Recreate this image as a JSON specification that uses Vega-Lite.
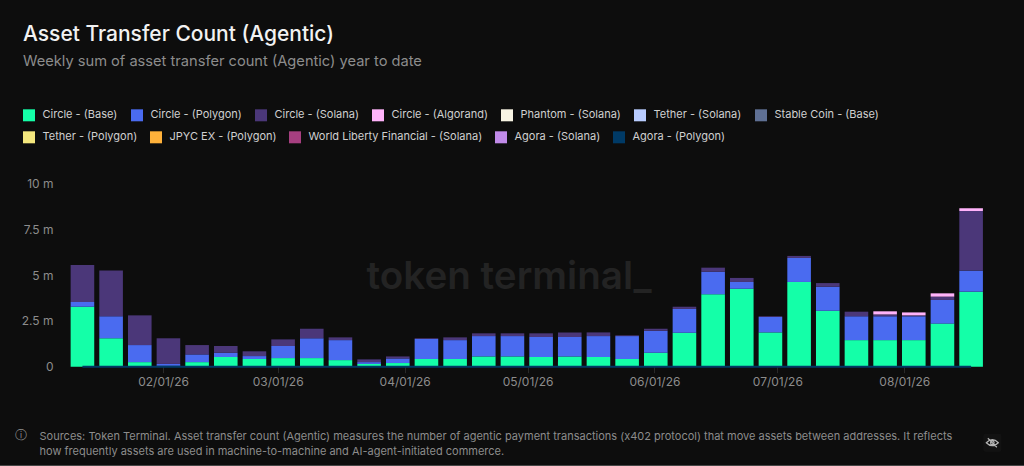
{
  "$schema": "https://vega.github.io/schema/vega-lite/v6.json",
  "width": 917,
  "height": 183.4,
  "autosize": "none",
  "padding": {"left": 68, "top": 183.3, "right": 39, "bottom": 99.3},
  "background": "#0d0d0d",
  "view": {"stroke": null},
  "title": {
    "text": "Asset Transfer Count (Agentic)",
    "subtitle": "Weekly sum of asset transfer count (Agentic) year to date",
    "anchor": "start",
    "frame": "group",
    "dx": -45,
    "dy": -37,
    "font": "Inter",
    "fontSize": 21,
    "fontWeight": 500,
    "color": "#f2f2f2",
    "subtitleFont": "Inter",
    "subtitleFontSize": 14.65,
    "subtitleColor": "#8c8c8c",
    "subtitlePadding": 9
  },
  "datasets": {
    "bars": [
      {"week": "2026-01-12", "series": "Circle - (Base)", "stack": 1, "count": 3270000},
      {"week": "2026-01-12", "series": "Circle - (Polygon)", "stack": 2, "count": 260000},
      {"week": "2026-01-12", "series": "Circle - (Solana)", "stack": 3, "count": 2020000},
      {"week": "2026-01-19", "series": "Circle - (Base)", "stack": 1, "count": 1550000},
      {"week": "2026-01-19", "series": "Circle - (Polygon)", "stack": 2, "count": 1200000},
      {"week": "2026-01-19", "series": "Circle - (Solana)", "stack": 3, "count": 2490000},
      {"week": "2026-01-26", "series": "Circle - (Base)", "stack": 1, "count": 250000},
      {"week": "2026-01-26", "series": "Circle - (Polygon)", "stack": 2, "count": 930000},
      {"week": "2026-01-26", "series": "Circle - (Solana)", "stack": 3, "count": 1620000},
      {"week": "2026-02-02", "series": "Circle - (Base)", "stack": 1, "count": 50000},
      {"week": "2026-02-02", "series": "Circle - (Polygon)", "stack": 2, "count": 100000},
      {"week": "2026-02-02", "series": "Circle - (Solana)", "stack": 3, "count": 1400000},
      {"week": "2026-02-09", "series": "Circle - (Base)", "stack": 1, "count": 250000},
      {"week": "2026-02-09", "series": "Circle - (Polygon)", "stack": 2, "count": 420000},
      {"week": "2026-02-09", "series": "Circle - (Solana)", "stack": 3, "count": 510000},
      {"week": "2026-02-16", "series": "Circle - (Base)", "stack": 1, "count": 530000},
      {"week": "2026-02-16", "series": "Circle - (Polygon)", "stack": 2, "count": 230000},
      {"week": "2026-02-16", "series": "Circle - (Solana)", "stack": 3, "count": 370000},
      {"week": "2026-02-23", "series": "Circle - (Base)", "stack": 1, "count": 420000},
      {"week": "2026-02-23", "series": "Circle - (Polygon)", "stack": 2, "count": 160000},
      {"week": "2026-02-23", "series": "Circle - (Solana)", "stack": 3, "count": 260000},
      {"week": "2026-03-02", "series": "Circle - (Base)", "stack": 1, "count": 470000},
      {"week": "2026-03-02", "series": "Circle - (Polygon)", "stack": 2, "count": 660000},
      {"week": "2026-03-02", "series": "Circle - (Solana)", "stack": 3, "count": 360000},
      {"week": "2026-03-09", "series": "Circle - (Base)", "stack": 1, "count": 470000},
      {"week": "2026-03-09", "series": "Circle - (Polygon)", "stack": 2, "count": 1080000},
      {"week": "2026-03-09", "series": "Circle - (Solana)", "stack": 3, "count": 520000},
      {"week": "2026-03-16", "series": "Circle - (Base)", "stack": 1, "count": 360000},
      {"week": "2026-03-16", "series": "Circle - (Polygon)", "stack": 2, "count": 1090000},
      {"week": "2026-03-16", "series": "Circle - (Solana)", "stack": 3, "count": 150000},
      {"week": "2026-03-23", "series": "Circle - (Base)", "stack": 1, "count": 150000},
      {"week": "2026-03-23", "series": "Circle - (Polygon)", "stack": 2, "count": 100000},
      {"week": "2026-03-23", "series": "Circle - (Solana)", "stack": 3, "count": 150000},
      {"week": "2026-03-30", "series": "Circle - (Base)", "stack": 1, "count": 200000},
      {"week": "2026-03-30", "series": "Circle - (Polygon)", "stack": 2, "count": 250000},
      {"week": "2026-03-30", "series": "Circle - (Solana)", "stack": 3, "count": 110000},
      {"week": "2026-04-06", "series": "Circle - (Base)", "stack": 1, "count": 420000},
      {"week": "2026-04-06", "series": "Circle - (Polygon)", "stack": 2, "count": 1090000},
      {"week": "2026-04-06", "series": "Circle - (Solana)", "stack": 3, "count": 40000},
      {"week": "2026-04-13", "series": "Circle - (Base)", "stack": 1, "count": 420000},
      {"week": "2026-04-13", "series": "Circle - (Polygon)", "stack": 2, "count": 1030000},
      {"week": "2026-04-13", "series": "Circle - (Solana)", "stack": 3, "count": 150000},
      {"week": "2026-04-20", "series": "Circle - (Base)", "stack": 1, "count": 560000},
      {"week": "2026-04-20", "series": "Circle - (Polygon)", "stack": 2, "count": 1110000},
      {"week": "2026-04-20", "series": "Circle - (Solana)", "stack": 3, "count": 150000},
      {"week": "2026-04-27", "series": "Circle - (Base)", "stack": 1, "count": 560000},
      {"week": "2026-04-27", "series": "Circle - (Polygon)", "stack": 2, "count": 1110000},
      {"week": "2026-04-27", "series": "Circle - (Solana)", "stack": 3, "count": 150000},
      {"week": "2026-05-04", "series": "Circle - (Base)", "stack": 1, "count": 530000},
      {"week": "2026-05-04", "series": "Circle - (Polygon)", "stack": 2, "count": 1090000},
      {"week": "2026-05-04", "series": "Circle - (Solana)", "stack": 3, "count": 200000},
      {"week": "2026-05-11", "series": "Circle - (Base)", "stack": 1, "count": 560000},
      {"week": "2026-05-11", "series": "Circle - (Polygon)", "stack": 2, "count": 1060000},
      {"week": "2026-05-11", "series": "Circle - (Solana)", "stack": 3, "count": 250000},
      {"week": "2026-05-18", "series": "Circle - (Base)", "stack": 1, "count": 530000},
      {"week": "2026-05-18", "series": "Circle - (Polygon)", "stack": 2, "count": 1140000},
      {"week": "2026-05-18", "series": "Circle - (Solana)", "stack": 3, "count": 200000},
      {"week": "2026-05-25", "series": "Circle - (Base)", "stack": 1, "count": 420000},
      {"week": "2026-05-25", "series": "Circle - (Polygon)", "stack": 2, "count": 1250000},
      {"week": "2026-05-25", "series": "Circle - (Solana)", "stack": 3, "count": 40000},
      {"week": "2026-06-01", "series": "Circle - (Base)", "stack": 1, "count": 760000},
      {"week": "2026-06-01", "series": "Circle - (Polygon)", "stack": 2, "count": 1200000},
      {"week": "2026-06-01", "series": "Circle - (Solana)", "stack": 3, "count": 110000},
      {"week": "2026-06-08", "series": "Circle - (Base)", "stack": 1, "count": 1850000},
      {"week": "2026-06-08", "series": "Circle - (Polygon)", "stack": 2, "count": 1300000},
      {"week": "2026-06-08", "series": "Circle - (Solana)", "stack": 3, "count": 120000},
      {"week": "2026-06-15", "series": "Circle - (Base)", "stack": 1, "count": 3950000},
      {"week": "2026-06-15", "series": "Circle - (Polygon)", "stack": 2, "count": 1230000},
      {"week": "2026-06-15", "series": "Circle - (Solana)", "stack": 3, "count": 220000},
      {"week": "2026-06-22", "series": "Circle - (Base)", "stack": 1, "count": 4250000},
      {"week": "2026-06-22", "series": "Circle - (Polygon)", "stack": 2, "count": 370000},
      {"week": "2026-06-22", "series": "Circle - (Solana)", "stack": 3, "count": 220000},
      {"week": "2026-06-29", "series": "Circle - (Base)", "stack": 1, "count": 1870000},
      {"week": "2026-06-29", "series": "Circle - (Polygon)", "stack": 2, "count": 840000},
      {"week": "2026-06-29", "series": "Circle - (Solana)", "stack": 3, "count": 40000},
      {"week": "2026-07-06", "series": "Circle - (Base)", "stack": 1, "count": 4620000},
      {"week": "2026-07-06", "series": "Circle - (Polygon)", "stack": 2, "count": 1310000},
      {"week": "2026-07-06", "series": "Circle - (Solana)", "stack": 3, "count": 110000},
      {"week": "2026-07-13", "series": "Circle - (Base)", "stack": 1, "count": 3050000},
      {"week": "2026-07-13", "series": "Circle - (Polygon)", "stack": 2, "count": 1310000},
      {"week": "2026-07-13", "series": "Circle - (Solana)", "stack": 3, "count": 200000},
      {"week": "2026-07-20", "series": "Circle - (Base)", "stack": 1, "count": 1450000},
      {"week": "2026-07-20", "series": "Circle - (Polygon)", "stack": 2, "count": 1300000},
      {"week": "2026-07-20", "series": "Circle - (Solana)", "stack": 3, "count": 250000},
      {"week": "2026-07-27", "series": "Circle - (Base)", "stack": 1, "count": 1450000},
      {"week": "2026-07-27", "series": "Circle - (Polygon)", "stack": 2, "count": 1300000},
      {"week": "2026-07-27", "series": "Circle - (Solana)", "stack": 3, "count": 100000},
      {"week": "2026-07-27", "series": "Circle - (Algorand)", "stack": 4, "count": 170000},
      {"week": "2026-08-03", "series": "Circle - (Base)", "stack": 1, "count": 1450000},
      {"week": "2026-08-03", "series": "Circle - (Polygon)", "stack": 2, "count": 1300000},
      {"week": "2026-08-03", "series": "Circle - (Solana)", "stack": 3, "count": 50000},
      {"week": "2026-08-03", "series": "Circle - (Algorand)", "stack": 4, "count": 160000},
      {"week": "2026-08-10", "series": "Circle - (Base)", "stack": 1, "count": 2350000},
      {"week": "2026-08-10", "series": "Circle - (Polygon)", "stack": 2, "count": 1290000},
      {"week": "2026-08-10", "series": "Circle - (Solana)", "stack": 3, "count": 180000},
      {"week": "2026-08-10", "series": "Circle - (Algorand)", "stack": 4, "count": 180000},
      {"week": "2026-08-17", "series": "Circle - (Base)", "stack": 1, "count": 4090000},
      {"week": "2026-08-17", "series": "Circle - (Polygon)", "stack": 2, "count": 1150000},
      {"week": "2026-08-17", "series": "Circle - (Solana)", "stack": 3, "count": 3250000},
      {"week": "2026-08-17", "series": "Circle - (Algorand)", "stack": 4, "count": 150000}
    ],
    "small": [
      {"week": "2026-08-17", "series": "Tether - (Polygon)", "count": 0},
      {"week": "2026-08-17", "series": "JPYC EX - (Polygon)", "count": 0},
      {"week": "2026-08-17", "series": "World Liberty Financial - (Solana)", "count": 0},
      {"week": "2026-08-17", "series": "Agora - (Solana)", "count": 0},
      {"week": "2026-08-17", "series": "Agora - (Polygon)", "count": 0}
    ],
    "agora": [
      {"week": "2026-01-12", "count": 0}, {"week": "2026-01-19", "count": 0}, {"week": "2026-01-26", "count": 0},
      {"week": "2026-02-02", "count": 0}, {"week": "2026-02-09", "count": 0}, {"week": "2026-02-16", "count": 0},
      {"week": "2026-02-23", "count": 0}, {"week": "2026-03-02", "count": 0}, {"week": "2026-03-09", "count": 0},
      {"week": "2026-03-16", "count": 0}, {"week": "2026-03-23", "count": 0}, {"week": "2026-03-30", "count": 0},
      {"week": "2026-04-06", "count": 0}, {"week": "2026-04-13", "count": 0}, {"week": "2026-04-20", "count": 0},
      {"week": "2026-04-27", "count": 0}, {"week": "2026-05-04", "count": 0}, {"week": "2026-05-11", "count": 0},
      {"week": "2026-05-18", "count": 0}, {"week": "2026-05-25", "count": 0}, {"week": "2026-06-01", "count": 0},
      {"week": "2026-06-08", "count": 0}, {"week": "2026-06-15", "count": 0}, {"week": "2026-06-22", "count": 0},
      {"week": "2026-06-29", "count": 0}, {"week": "2026-07-06", "count": 0}, {"week": "2026-07-13", "count": 0},
      {"week": "2026-07-20", "count": 0}, {"week": "2026-07-27", "count": 0}, {"week": "2026-08-03", "count": 0},
      {"week": "2026-08-10", "count": 0}, {"week": "2026-08-17", "count": 0}
    ],
    "one": [{"label": "token terminal_", "info": "ⓘ"}]
  },
  "data": {"name": "bars"},
  "layer": [
    {
      "data": {"name": "one"},
      "mark": {"type": "text", "font": "Inter", "fontSize": 38.6, "fontWeight": 600, "color": "#232323"},
      "encoding": {
        "x": {"datum": {"year": 2026, "month": 4, "date": 26, "hours": 12, "utc": true}, "type": "temporal"},
        "y": {"datum": 4900000, "type": "quantitative"},
        "text": {"field": "label"}
      }
    },
    {
      "mark": {"type": "bar", "width": 23.6, "xOffset": 1.3},
      "encoding": {
        "x": {
          "field": "week",
          "type": "temporal",
          "scale": {
            "type": "utc",
            "padding": 0,
            "domain": [
              {"year": 2026, "month": 1, "date": 8, "hours": 19, "utc": true},
              {"year": 2026, "month": 8, "date": 20, "hours": 17, "utc": true}
            ]
          },
          "axis": {
            "tickCount": {"interval": "month", "step": 1},
            "format": "%m/%d/%y",
            "grid": false,
            "domain": false,
            "tickColor": "#2a2a2a",
            "tickSize": 6,
            "labelFont": "Inter",
            "labelFontSize": 12,
            "labelColor": "#8c8c8c",
            "labelPadding": 4,
            "labelFlush": false,
            "title": [
              "Sources: Token Terminal. Asset transfer count (Agentic) measures the number of agentic payment transactions (x402 protocol) that move assets between addresses. It reflects",
              "how frequently assets are used in machine-to-machine and AI-agent-initiated commerce."
            ],
            "titleFont": "Inter",
            "titleFontSize": 11,
            "titleFontWeight": 400,
            "titleColor": "#8c8c8c",
            "titleAlign": "left",
            "titleAnchor": "start",
            "titleBaseline": "alphabetic",
            "titleX": -29,
            "titleY": 73,
            "titleLineHeight": 15
          }
        },
        "y": {
          "field": "count",
          "type": "quantitative",
          "stack": "zero",
          "scale": {"domain": [0, 10000000]},
          "axis": {
            "values": [0, 2500000, 5000000, 7500000, 10000000],
            "labelExpr": "datum.value == 0 ? '0' : datum.value / 1000000 + ' m'",
            "title": null,
            "domain": false,
            "ticks": false,
            "gridColor": "#1c1c1c",
            "labelFont": "Inter",
            "labelFontSize": 12,
            "labelColor": "#8c8c8c",
            "labelPadding": 15
          }
        },
        "order": {"field": "stack", "type": "quantitative"},
        "color": {
          "field": "series",
          "type": "nominal",
          "scale": {
            "domain": [
              "Circle - (Base)",
              "Circle - (Polygon)",
              "Circle - (Solana)",
              "Circle - (Algorand)",
              "Phantom - (Solana)",
              "Tether - (Solana)",
              "Stable Coin - (Base)"
            ],
            "range": ["#14ffa8", "#4a6bf0", "#4b3779", "#ffb3fa", "#f8f4e3", "#b8ccff", "#5f7094"]
          },
          "legend": {
            "title": null,
            "orient": "none",
            "legendX": -45,
            "legendY": -74,
            "direction": "horizontal",
            "columns": 7,
            "columnPadding": 13,
            "symbolType": "square",
            "symbolSize": 144,
            "symbolStrokeWidth": 0,
            "symbolOpacity": 1,
            "labelOffset": 7.5,
            "labelFont": "Inter",
            "labelFontSize": 11,
            "labelColor": "#d0d0d0",
            "labelLimit": 300
          }
        }
      }
    },
    {
      "data": {"name": "small"},
      "mark": {"type": "bar", "width": 23.6, "xOffset": 1.3},
      "encoding": {
        "x": {"field": "week", "type": "temporal"},
        "y": {"field": "count", "type": "quantitative"},
        "color": {
          "field": "series",
          "type": "nominal",
          "scale": {
            "domain": [
              "Tether - (Polygon)",
              "JPYC EX - (Polygon)",
              "World Liberty Financial - (Solana)",
              "Agora - (Solana)",
              "Agora - (Polygon)"
            ],
            "range": ["#f4e77d", "#ffb13a", "#a63f80", "#c08ae8", "#003a66"]
          },
          "legend": {
            "title": null,
            "orient": "none",
            "legendX": -45,
            "legendY": -52,
            "direction": "horizontal",
            "columns": 5,
            "columnPadding": 12,
            "symbolType": "square",
            "symbolSize": 144,
            "symbolStrokeWidth": 0,
            "symbolOpacity": 1,
            "labelOffset": 7.5,
            "labelFont": "Inter",
            "labelFontSize": 11,
            "labelColor": "#d0d0d0",
            "labelLimit": 300
          }
        }
      }
    },
    {
      "data": {"name": "agora"},
      "mark": {"type": "line", "strokeWidth": 2, "xOffset": 1.3, "color": "#003a66"},
      "encoding": {
        "x": {"field": "week", "type": "temporal"},
        "y": {"field": "count", "type": "quantitative"}
      }
    },
    {
      "data": {"name": "one"},
      "mark": {"type": "text", "font": "DejaVu Sans", "fontSize": 12, "color": "#8c8c8c"},
      "encoding": {
        "x": {"datum": {"year": 2025, "month": 12, "date": 28, "hours": 10, "utc": true}, "type": "temporal"},
        "y": {"datum": -3724000, "type": "quantitative"},
        "text": {"field": "info"}
      }
    },
    {
      "data": {"name": "one"},
      "mark": {
        "type": "point",
        "filled": true,
        "size": 324,
        "color": "#161616",
        "shape": "M-0.75,-1 H0.75 Q1,-1 1,-0.75 V0.75 Q1,1 0.75,1 H-0.75 Q-1,1 -1,0.75 V-0.75 Q-1,-1 -0.75,-1 Z"
      },
      "encoding": {
        "x": {"datum": {"year": 2026, "month": 8, "date": 22, "hours": 12, "utc": true}, "type": "temporal"},
        "y": {"datum": -4144000, "type": "quantitative"}
      }
    },
    {
      "data": {"name": "one"},
      "mark": {
        "type": "point",
        "filled": false,
        "size": 144,
        "strokeWidth": 1.2,
        "opacity": 1,
        "color": "#b5b5b5",
        "shape": "M-1,0 Q0,-1 1,0 Q0,1 -1,0 Z M-0.3,0 A0.3,0.3 0 1 0 0.3,0 A0.3,0.3 0 1 0 -0.3,0 Z M-0.75,-0.75 L0.75,0.75"
      },
      "encoding": {
        "x": {"datum": {"year": 2026, "month": 8, "date": 22, "hours": 12, "utc": true}, "type": "temporal"},
        "y": {"datum": -4144000, "type": "quantitative"}
      }
    },
    {
      "data": {"name": "one"},
      "mark": {"type": "rule", "color": "#4a4a4a", "strokeWidth": 1},
      "encoding": {
        "x": {"datum": {"year": 2025, "month": 12, "date": 20, "utc": true}, "type": "temporal"},
        "x2": {"datum": {"year": 2026, "month": 9, "date": 5, "utc": true}},
        "y": {"datum": -5390000, "type": "quantitative"}
      }
    }
  ],
  "resolve": {"scale": {"color": "independent"}}
}
